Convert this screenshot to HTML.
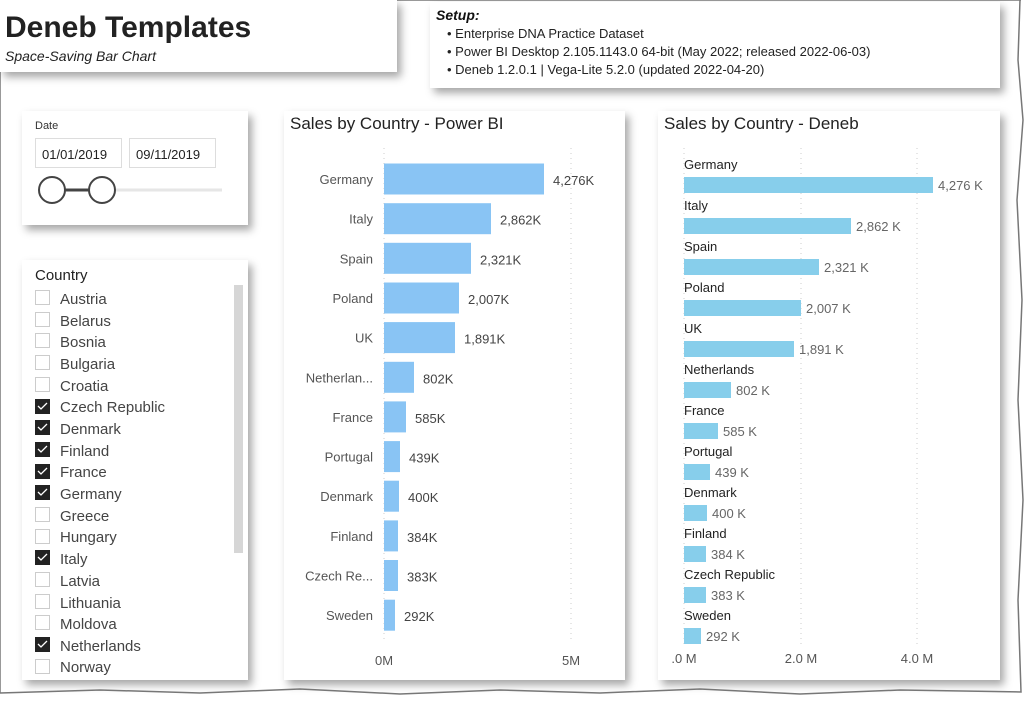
<!DOCTYPE html>
<html><head><meta charset="utf-8"><style>
body{margin:0;width:1035px;height:714px;overflow:hidden;background:#fff;font-family:"Liberation Sans",sans-serif;position:relative}
.p{position:absolute;background:#fff;box-shadow:4px 5px 8px rgba(0,0,0,0.35)}
svg{position:absolute;left:0;top:0}
</style></head><body>
<div style="position:absolute;left:0;top:0;width:1020px;height:692px;border-left:1px solid #999;border-top:1px solid #999;background:#fff"></div>
<div class="p" style="left:0;top:0;width:397px;height:72px"></div>
<div class="p" style="left:430px;top:2px;width:570px;height:86px"></div>
<div class="p" style="left:22px;top:111px;width:226px;height:114px"></div>
<div class="p" style="left:22px;top:260px;width:226px;height:420px"></div>
<div class="p" style="left:284px;top:111px;width:341px;height:569px"></div>
<div class="p" style="left:658px;top:111px;width:342px;height:569px"></div>
<svg width="1035" height="714" font-family="Liberation Sans, sans-serif">
<path d="M1020 0 L1018 60 L1023 120 L1017 200 L1022 300 L1018 400 L1023 500 L1018 600 L1021 692 L900 690 L800 694 L700 689 L600 693 L500 690 L400 694 L300 689 L200 693 L100 690 L0 693" fill="none" stroke="#777" stroke-width="1.5"/>
<text x="5" y="37" font-size="30" font-weight="bold" fill="#222">Deneb Templates</text>
<text x="5" y="61" font-size="14" font-style="italic" fill="#222">Space-Saving Bar Chart</text>
<text x="436" y="20" font-size="14" font-weight="bold" font-style="italic" fill="#111">Setup:</text>
<g font-size="13" fill="#222"><text x="447" y="38">• Enterprise DNA Practice Dataset</text><text x="447" y="56">• Power BI Desktop 2.105.1143.0 64-bit (May 2022; released 2022-06-03)</text><text x="447" y="74">• Deneb 1.2.0.1 | Vega-Lite 5.2.0 (updated 2022-04-20)</text></g>
<text x="35" y="129" font-size="11" fill="#333">Date</text>
<rect x="35.5" y="138.5" width="86" height="29" fill="#fff" stroke="#ddd"/><text x="42" y="159" font-size="13" fill="#222">01/01/2019</text>
<rect x="129.5" y="138.5" width="86" height="29" fill="#fff" stroke="#ddd"/><text x="136" y="159" font-size="13" fill="#222">09/11/2019</text>
<line x1="52" y1="190" x2="222" y2="190" stroke="#e6e6e6" stroke-width="3"/>
<line x1="52" y1="190" x2="102" y2="190" stroke="#444" stroke-width="3"/>
<circle cx="52" cy="190" r="13" fill="#fff" stroke="#444" stroke-width="2"/><circle cx="102" cy="190" r="13" fill="#fff" stroke="#444" stroke-width="2"/>
<text x="35" y="280" font-size="15" fill="#222">Country</text>
<rect x="234" y="285" width="9" height="268" fill="#d6d6d6"/>
<g font-size="15" fill="#444">
<rect x="35.5" y="290.5" width="14" height="14" fill="#fff" stroke="#ccc"/><text x="60" y="304">Austria</text>
<rect x="35.5" y="312.5" width="14" height="14" fill="#fff" stroke="#ccc"/><text x="60" y="326">Belarus</text>
<rect x="35.5" y="333.5" width="14" height="14" fill="#fff" stroke="#ccc"/><text x="60" y="347">Bosnia</text>
<rect x="35.5" y="355.5" width="14" height="14" fill="#fff" stroke="#ccc"/><text x="60" y="369">Bulgaria</text>
<rect x="35.5" y="377.5" width="14" height="14" fill="#fff" stroke="#ccc"/><text x="60" y="391">Croatia</text>
<rect x="35" y="399" width="15" height="15" fill="#222"/><path d="M38 406l3 3 6-6" stroke="#fff" fill="none" stroke-width="1.3"/><text x="60" y="412">Czech Republic</text>
<rect x="35" y="420" width="15" height="15" fill="#222"/><path d="M38 427l3 3 6-6" stroke="#fff" fill="none" stroke-width="1.3"/><text x="60" y="434">Denmark</text>
<rect x="35" y="442" width="15" height="15" fill="#222"/><path d="M38 449l3 3 6-6" stroke="#fff" fill="none" stroke-width="1.3"/><text x="60" y="456">Finland</text>
<rect x="35" y="464" width="15" height="15" fill="#222"/><path d="M38 471l3 3 6-6" stroke="#fff" fill="none" stroke-width="1.3"/><text x="60" y="477">France</text>
<rect x="35" y="485" width="15" height="15" fill="#222"/><path d="M38 492l3 3 6-6" stroke="#fff" fill="none" stroke-width="1.3"/><text x="60" y="499">Germany</text>
<rect x="35.5" y="507.5" width="14" height="14" fill="#fff" stroke="#ccc"/><text x="60" y="521">Greece</text>
<rect x="35.5" y="529.5" width="14" height="14" fill="#fff" stroke="#ccc"/><text x="60" y="542">Hungary</text>
<rect x="35" y="550" width="15" height="15" fill="#222"/><path d="M38 557l3 3 6-6" stroke="#fff" fill="none" stroke-width="1.3"/><text x="60" y="564">Italy</text>
<rect x="35.5" y="572.5" width="14" height="14" fill="#fff" stroke="#ccc"/><text x="60" y="586">Latvia</text>
<rect x="35.5" y="594.5" width="14" height="14" fill="#fff" stroke="#ccc"/><text x="60" y="608">Lithuania</text>
<rect x="35.5" y="615.5" width="14" height="14" fill="#fff" stroke="#ccc"/><text x="60" y="629">Moldova</text>
<rect x="35" y="637" width="15" height="15" fill="#222"/><path d="M38 644l3 3 6-6" stroke="#fff" fill="none" stroke-width="1.3"/><text x="60" y="651">Netherlands</text>
<rect x="35.5" y="659.5" width="14" height="14" fill="#fff" stroke="#ccc"/><text x="60" y="672">Norway</text>
</g>
<text x="290" y="129" font-size="17" fill="#222">Sales by Country - Power BI</text>
<line x1="384" y1="148" x2="384" y2="640" stroke="#ccc" stroke-dasharray="1 4"/>
<line x1="571" y1="148" x2="571" y2="640" stroke="#ccc" stroke-dasharray="1 4"/>
<g fill="#89c4f4">
<rect x="384" y="163.5" width="160" height="31"/><rect x="384" y="203.2" width="107" height="31"/><rect x="384" y="242.8" width="87" height="31"/><rect x="384" y="282.5" width="75" height="31"/><rect x="384" y="322.1" width="71" height="31"/><rect x="384" y="361.8" width="30" height="31"/><rect x="384" y="401.4" width="22" height="31"/><rect x="384" y="441.1" width="16" height="31"/><rect x="384" y="480.7" width="15" height="31"/><rect x="384" y="520.4" width="14" height="31"/><rect x="384" y="560" width="14" height="31"/><rect x="384" y="599.7" width="11" height="31"/>
</g>
<g font-size="13" fill="#555" text-anchor="end">
<text x="373" y="184">Germany</text><text x="373" y="223.7">Italy</text><text x="373" y="263.3">Spain</text><text x="373" y="303">Poland</text><text x="373" y="342.6">UK</text><text x="373" y="382.3">Netherlan...</text><text x="373" y="421.9">France</text><text x="373" y="461.6">Portugal</text><text x="373" y="501.2">Denmark</text><text x="373" y="540.9">Finland</text><text x="373" y="580.5">Czech Re...</text><text x="373" y="620.2">Sweden</text>
</g>
<g font-size="13" fill="#444">
<text x="553" y="185">4,276K</text><text x="500" y="224.7">2,862K</text><text x="480" y="264.3">2,321K</text><text x="468" y="304">2,007K</text><text x="464" y="343.6">1,891K</text><text x="423" y="383.3">802K</text><text x="415" y="422.9">585K</text><text x="409" y="462.6">439K</text><text x="408" y="502.2">400K</text><text x="407" y="541.9">384K</text><text x="407" y="581.5">383K</text><text x="404" y="621.2">292K</text>
</g>
<g font-size="13" fill="#555" text-anchor="middle"><text x="384" y="665">0M</text><text x="571" y="665">5M</text></g>
<text x="664" y="129" font-size="17" fill="#222">Sales by Country - Deneb</text>
<g stroke="#ccc" stroke-dasharray="1 4"><line x1="684" y1="148" x2="684" y2="645"/><line x1="801" y1="148" x2="801" y2="645"/><line x1="917" y1="148" x2="917" y2="645"/></g>
<g fill="#87ceeb">
<rect x="684" y="177" width="249" height="16"/><rect x="684" y="218" width="167" height="16"/><rect x="684" y="259" width="135" height="16"/><rect x="684" y="300" width="117" height="16"/><rect x="684" y="341" width="110" height="16"/><rect x="684" y="382" width="47" height="16"/><rect x="684" y="423" width="34" height="16"/><rect x="684" y="464" width="26" height="16"/><rect x="684" y="505" width="23" height="16"/><rect x="684" y="546" width="22" height="16"/><rect x="684" y="587" width="22" height="16"/><rect x="684" y="628" width="17" height="16"/>
</g>
<g font-size="13" fill="#222">
<text x="684" y="169">Germany</text><text x="684" y="210">Italy</text><text x="684" y="251">Spain</text><text x="684" y="292">Poland</text><text x="684" y="333">UK</text><text x="684" y="374">Netherlands</text><text x="684" y="415">France</text><text x="684" y="456">Portugal</text><text x="684" y="497">Denmark</text><text x="684" y="538">Finland</text><text x="684" y="579">Czech Republic</text><text x="684" y="620">Sweden</text>
</g>
<g font-size="13" fill="#666">
<text x="938" y="190">4,276 K</text><text x="856" y="231">2,862 K</text><text x="824" y="272">2,321 K</text><text x="806" y="313">2,007 K</text><text x="799" y="354">1,891 K</text><text x="736" y="395">802 K</text><text x="723" y="436">585 K</text><text x="715" y="477">439 K</text><text x="712" y="518">400 K</text><text x="711" y="559">384 K</text><text x="711" y="600">383 K</text><text x="706" y="641">292 K</text>
</g>
<g font-size="13" fill="#555" text-anchor="middle"><text x="684" y="663">.0 M</text><text x="801" y="663">2.0 M</text><text x="917" y="663">4.0 M</text></g>
</svg>
</body></html>
